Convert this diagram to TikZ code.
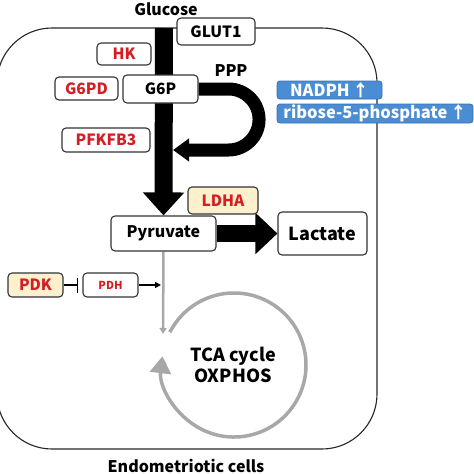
\documentclass[tikz,border=0pt]{standalone}
\usepackage{fontspec}
\setmainfont{Noto Sans CJK JP}
\usetikzlibrary{arrows.meta,backgrounds,calc}
\definecolor{enzred}{HTML}{D41E24}
\definecolor{boxline}{HTML}{333333}
\definecolor{bluefill}{HTML}{4A8DD2}
\definecolor{blueline}{HTML}{3A70B0}
\definecolor{yelfill}{HTML}{FDF0CD}
\definecolor{tcagray}{HTML}{A8A8A8}
\tikzset{
  lbl/.style={font=\fontsize{16}{19}\selectfont\bfseries, inner sep=0pt},
  box/.style={draw=boxline, fill=white, rounded corners=4pt, line width=1.1pt, inner sep=0pt,
              font=\fontsize{15.5}{18}\selectfont\bfseries},
  enz/.style={box, text=enzred},
  yel/.style={fill=yelfill},
  bluebox/.style={draw=blueline, fill=bluefill, rounded corners=3pt, line width=0.8pt, inner sep=0pt,
              text=white, font=\fontsize{16.5}{19}\selectfont\bfseries},
  cell/.style={draw=black!85, line width=1.1pt, rounded corners=55pt},
  flux/.style={draw=black},
  tca/.style={draw=tcagray, line width=3.5pt},
}
\begin{document}
\begin{tikzpicture}[x=1pt,y=-1pt]
\useasboundingbox (0,0) rectangle (474,474);
% nodes
\node[lbl] (glc) at (166,9) {Glucose};
\node[box, minimum width=78, minimum height=27] (glut) at (216,31.5) {GLUT1};
\node[enz, minimum width=54, minimum height=22] (hk) at (124,54) {HK};
\node[enz, minimum width=63, minimum height=23] (g6pd) at (86.5,88.5) {G6PD};
\node[box, minimum width=75, minimum height=28] (g6p) at (160.5,89) {G6P};
\node[lbl] (ppp) at (231,71) {PPP};
\node[enz, minimum width=88, minimum height=24] (pfk) at (106,140) {PFKFB3};
\node[bluebox, minimum width=105, minimum height=18] (nadph) at (329.5,90) {NADPH\,↑};
\node[bluebox, minimum width=196, minimum height=19] (ribose) at (375,113.5) {ribose-5-phosphate\,↑};
\node[enz, yel, minimum width=70, minimum height=27] (ldha) at (223,200.5) {LDHA};
\node[box, minimum width=105, minimum height=35, font=\fontsize{16}{19}\selectfont\bfseries] (pyr) at (163.5,233.5) {Pyruvate};
\node[box, minimum width=89, minimum height=43, font=\fontsize{18}{21}\selectfont\bfseries] (lac) at (322.5,233.5) {Lactate};
\node[enz, yel, minimum width=55, minimum height=24] (pdk) at (35.5,285) {PDK};
\node[enz, minimum width=55, minimum height=24, font=\fontsize{11}{13}\selectfont\bfseries] (pdh) at (110.5,285) {PDH};
\node[align=center, font=\fontsize{18}{21}\selectfont\bfseries, inner sep=0pt] (tcac) at (233,365) {TCA cycle\\OXPHOS};
\node[lbl] (cells) at (186,466) {Endometriotic cells};
\coordinate (gtop) at (164,28);
\coordinate (pppend) at (173,150);
\coordinate (tcain) at (163,334);
\coordinate (tcacenter) at (234,365);
% connectors behind the boxes
\begin{pgfonlayer}{background}
\draw[cell] (-3,28) rectangle (377,449);
\draw[flux, line width=18pt, -{Triangle[length=23pt,width=40pt]}] (gtop) -- (pyr.north);
\draw[flux, line width=13pt, -{Triangle[length=16pt,width=22pt]}] (g6p.east) -- ++(30,0)
   arc[start angle=-90, end angle=90, radius=30.5] -- (pppend);
\draw[flux, line width=17pt, -{Triangle[length=22pt,width=40pt]}] (pyr.east) -- (lac.west);
\draw[draw=tcagray, line width=2.5pt, -{Triangle[length=6pt,width=7pt]}] (pyr.south) -- (tcain);
\draw[line width=1.4pt, -{Bar[width=15pt]}, shorten >=4pt] (pdk.east) -- (pdh.west);
\draw[line width=1.2pt, -{Triangle[length=6pt,width=6pt]}, shorten >=2pt] (pdh.east) -- (pdh.east -| tcain);
\draw[tca, -{Triangle[length=17pt,width=21pt]}] ($(tcacenter)+(-153:72)$) arc[start angle=-153, end angle=187, radius=72];
\end{pgfonlayer}
\end{tikzpicture}
\end{document}
